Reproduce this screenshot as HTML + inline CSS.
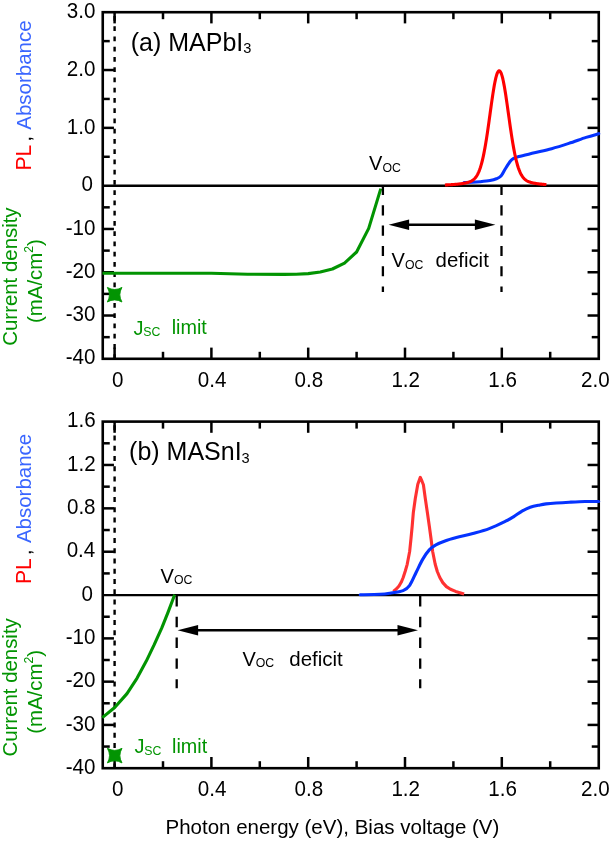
<!DOCTYPE html>
<html><head><meta charset="utf-8"><title>MAPbI3 vs MASnI3</title>
<style>html,body{margin:0;padding:0;background:#fff;width:610px;height:841px;overflow:hidden} svg{display:block}</style>
</head><body>
<svg width="610" height="841" viewBox="0 0 610 841" font-family='"Liberation Sans",Arial,Helvetica,sans-serif'>
<rect width="610" height="841" fill="#fff"/>
<g stroke="#000" stroke-width="2.5" fill="none"><line x1="102.75" y1="156.78" x2="109.75" y2="156.78"/><line x1="598.75" y1="156.78" x2="591.75" y2="156.78"/><line x1="102.75" y1="127.87" x2="113.95" y2="127.87"/><line x1="598.75" y1="127.87" x2="587.55" y2="127.87"/><line x1="102.75" y1="98.95" x2="109.75" y2="98.95"/><line x1="598.75" y1="98.95" x2="591.75" y2="98.95"/><line x1="102.75" y1="70.03" x2="113.95" y2="70.03"/><line x1="598.75" y1="70.03" x2="587.55" y2="70.03"/><line x1="102.75" y1="41.12" x2="109.75" y2="41.12"/><line x1="598.75" y1="41.12" x2="591.75" y2="41.12"/><line x1="102.75" y1="207.34" x2="109.75" y2="207.34"/><line x1="598.75" y1="207.34" x2="591.75" y2="207.34"/><line x1="102.75" y1="228.97" x2="113.95" y2="228.97"/><line x1="598.75" y1="228.97" x2="587.55" y2="228.97"/><line x1="102.75" y1="250.61" x2="109.75" y2="250.61"/><line x1="598.75" y1="250.61" x2="591.75" y2="250.61"/><line x1="102.75" y1="272.25" x2="113.95" y2="272.25"/><line x1="598.75" y1="272.25" x2="587.55" y2="272.25"/><line x1="102.75" y1="293.89" x2="109.75" y2="293.89"/><line x1="598.75" y1="293.89" x2="591.75" y2="293.89"/><line x1="102.75" y1="315.52" x2="113.95" y2="315.52"/><line x1="598.75" y1="315.52" x2="587.55" y2="315.52"/><line x1="102.75" y1="337.16" x2="109.75" y2="337.16"/><line x1="598.75" y1="337.16" x2="591.75" y2="337.16"/><line x1="114.60" y1="12.20" x2="114.60" y2="23.40"/><line x1="114.60" y1="358.80" x2="114.60" y2="347.60"/><line x1="163.00" y1="12.20" x2="163.00" y2="19.20"/><line x1="163.00" y1="358.80" x2="163.00" y2="351.80"/><line x1="211.40" y1="12.20" x2="211.40" y2="23.40"/><line x1="211.40" y1="358.80" x2="211.40" y2="347.60"/><line x1="259.80" y1="12.20" x2="259.80" y2="19.20"/><line x1="259.80" y1="358.80" x2="259.80" y2="351.80"/><line x1="308.20" y1="12.20" x2="308.20" y2="23.40"/><line x1="308.20" y1="358.80" x2="308.20" y2="347.60"/><line x1="356.60" y1="12.20" x2="356.60" y2="19.20"/><line x1="356.60" y1="358.80" x2="356.60" y2="351.80"/><line x1="405.00" y1="12.20" x2="405.00" y2="23.40"/><line x1="405.00" y1="358.80" x2="405.00" y2="347.60"/><line x1="453.40" y1="12.20" x2="453.40" y2="19.20"/><line x1="453.40" y1="358.80" x2="453.40" y2="351.80"/><line x1="501.80" y1="12.20" x2="501.80" y2="23.40"/><line x1="501.80" y1="358.80" x2="501.80" y2="347.60"/><line x1="550.20" y1="12.20" x2="550.20" y2="19.20"/><line x1="550.20" y1="358.80" x2="550.20" y2="351.80"/></g>
<line x1="102.75" y1="185.70" x2="598.75" y2="185.70" stroke="#000" stroke-width="2.4"/>
<line x1="114.60" y1="12.20" x2="114.60" y2="358.80" stroke="#000" stroke-width="2.4" stroke-dasharray="4.8 5.45" stroke-dashoffset="6.5"/>
<rect x="102.75" y="12.20" width="496.00" height="346.60" fill="none" stroke="#000" stroke-width="2.6"/>
<text transform="translate(81.45,191.37) scale(1,1.04)" font-size="20.6" fill="#000">0</text>
<text transform="translate(66.87,133.54) scale(1,1.04)" font-size="20.6" fill="#000">1.0</text>
<text transform="translate(66.87,75.70) scale(1,1.04)" font-size="20.6" fill="#000">2.0</text>
<text transform="translate(66.87,17.87) scale(1,1.04)" font-size="20.6" fill="#000">3.0</text>
<text transform="translate(65.74,234.64) scale(1,1.04)" font-size="20.6" fill="#000">-10</text>
<text transform="translate(65.74,277.92) scale(1,1.04)" font-size="20.6" fill="#000">-20</text>
<text transform="translate(65.74,321.19) scale(1,1.04)" font-size="20.6" fill="#000">-30</text>
<text transform="translate(65.74,364.47) scale(1,1.04)" font-size="20.6" fill="#000">-40</text>
<text transform="translate(112.07,386.60) scale(1,1.04)" font-size="20.6" fill="#000">0</text>
<text transform="translate(197.78,386.60) scale(1,1.04)" font-size="20.6" fill="#000">0.4</text>
<text transform="translate(294.52,386.60) scale(1,1.04)" font-size="20.6" fill="#000">0.8</text>
<text transform="translate(391.42,386.60) scale(1,1.04)" font-size="20.6" fill="#000">1.2</text>
<text transform="translate(488.35,386.60) scale(1,1.04)" font-size="20.6" fill="#000">1.6</text>
<text transform="translate(581.07,386.60) scale(1,1.04)" font-size="20.6" fill="#000">2.0</text>
<text transform="translate(130.75,50.80)" font-size="25" fill="#000">(a) MAPbI<tspan font-size="14.6" dy="2.4">3</tspan></text>
<text transform="translate(30.90,170.60) rotate(-90) scale(1,1.04)" font-size="21" fill="#ff0000">PL</text>
<text transform="translate(30.90,141.80) rotate(-90)" font-size="21" fill="#000">,</text>
<text transform="translate(30.90,129.70) rotate(-90) scale(1,1.02)" font-size="20.5" fill="#3a66ff">Absorbance</text>
<text transform="translate(17.40,345.70) rotate(-90) scale(1,1.02)" font-size="20.4" fill="#029402">Current density</text>
<text transform="translate(42.10,322.96) rotate(-90) scale(1,1.02)" font-size="20.4" fill="#029402">(mA/cm<tspan font-size="12.2" dy="-9.2">2</tspan><tspan dy="9.2">)</tspan></text>
<path d="M102.50,273.20 L114.60,273.20 L163.00,273.20 L211.40,273.30 L247.70,274.20 L284.00,274.40 L296.10,274.20 L308.20,273.60 L320.30,272.00 L332.40,269.00 L344.50,263.10 L356.60,252.00 L368.70,228.40 L380.80,188.60" fill="none" stroke="#029402" stroke-width="3.1" stroke-linejoin="round"/>
<path d="M464.10,182.60 C465.42,182.55 469.35,182.45 472.00,182.30 C474.65,182.15 477.00,182.00 480.00,181.70 C483.00,181.40 487.27,180.98 490.00,180.50 C492.73,180.02 494.57,179.55 496.40,178.80 C498.23,178.05 499.53,177.63 501.00,176.00 C502.47,174.37 503.65,171.45 505.20,169.00 C506.75,166.55 508.87,163.07 510.30,161.30 C511.73,159.53 512.37,159.20 513.80,158.40 C515.23,157.60 515.47,157.43 518.90,156.50 C522.33,155.57 528.95,154.10 534.40,152.80 C539.85,151.50 545.87,150.27 551.60,148.70 C557.33,147.13 563.05,145.28 568.80,143.40 C574.55,141.52 581.12,139.02 586.10,137.40 C591.08,135.78 596.60,134.32 598.70,133.70" fill="none" stroke="#0533ff" stroke-width="3.1" stroke-linecap="round"/>
<path d="M444.90,184.95 L445.40,184.93 L445.90,184.91 L446.40,184.89 L446.90,184.87 L447.40,184.85 L447.90,184.83 L448.40,184.81 L448.90,184.79 L449.40,184.76 L449.90,184.74 L450.40,184.71 L450.90,184.68 L451.40,184.65 L451.90,184.62 L452.40,184.59 L452.90,184.55 L453.40,184.52 L453.90,184.48 L454.40,184.44 L454.90,184.40 L455.40,184.36 L455.90,184.31 L456.40,184.27 L456.90,184.22 L457.40,184.17 L457.90,184.12 L458.40,184.06 L458.90,184.01 L459.40,183.95 L459.90,183.89 L460.40,183.82 L460.90,183.76 L461.40,183.69 L461.90,183.62 L462.40,183.54 L462.90,183.47 L463.40,183.38 L463.90,183.30 L464.40,183.21 L464.90,183.11 L465.40,183.01 L465.90,182.90 L466.40,182.79 L466.90,182.67 L467.40,182.54 L467.90,182.40 L468.40,182.25 L468.90,182.09 L469.40,181.91 L469.90,181.71 L470.40,181.50 L470.90,181.27 L471.40,181.01 L471.90,180.73 L472.40,180.41 L472.90,180.06 L473.40,179.68 L473.90,179.25 L474.40,178.78 L474.90,178.26 L475.40,177.68 L475.90,177.04 L476.40,176.33 L476.90,175.55 L477.40,174.68 L477.90,173.73 L478.40,172.69 L478.90,171.55 L479.40,170.30 L479.90,168.93 L480.40,167.46 L480.90,165.85 L481.40,164.12 L481.90,162.25 L482.40,160.25 L482.90,158.10 L483.40,155.82 L483.90,153.39 L484.40,150.82 L484.90,148.11 L485.40,145.26 L485.90,142.29 L486.40,139.18 L486.90,135.97 L487.40,132.65 L487.90,129.23 L488.40,125.74 L488.90,122.18 L489.40,118.58 L489.90,114.96 L490.40,111.32 L490.90,107.71 L491.40,104.13 L491.90,100.62 L492.40,97.19 L492.90,93.88 L493.40,90.70 L493.90,87.68 L494.40,84.84 L494.90,82.22 L495.40,79.82 L495.90,77.67 L496.40,75.78 L496.90,74.18 L497.40,72.88 L497.90,71.88 L498.40,71.21 L498.90,70.86 L499.40,70.83 L499.90,71.12 L500.40,71.73 L500.90,72.65 L501.40,73.87 L501.90,75.39 L502.40,77.18 L502.90,79.24 L503.40,81.54 L503.90,84.08 L504.40,86.82 L504.90,89.75 L505.40,92.84 L505.90,96.07 L506.40,99.41 L506.90,102.86 L507.40,106.37 L507.90,109.92 L508.40,113.50 L508.90,117.09 L509.40,120.65 L509.90,124.18 L510.40,127.66 L510.90,131.07 L511.40,134.39 L511.90,137.62 L512.40,140.74 L512.90,143.74 L513.40,146.62 L513.90,149.36 L514.40,151.98 L514.90,154.45 L515.40,156.79 L515.90,158.99 L516.40,161.05 L516.90,162.97 L517.40,164.77 L517.90,166.43 L518.40,167.97 L518.90,169.39 L519.40,170.70 L519.90,171.90 L520.40,173.00 L520.90,174.00 L521.40,174.91 L521.90,175.75 L522.40,176.50 L522.90,177.19 L523.40,177.81 L523.90,178.37 L524.40,178.87 L524.90,179.33 L525.40,179.74 L525.90,180.12 L526.40,180.45 L526.90,180.76 L527.40,181.04 L527.90,181.29 L528.40,181.52 L528.90,181.73 L529.40,181.92 L529.90,182.09 L530.40,182.25 L530.90,182.40 L531.40,182.54 L531.90,182.67 L532.40,182.79 L532.90,182.90 L533.40,183.01 L533.90,183.11 L534.40,183.20 L534.90,183.29 L535.40,183.37 L535.90,183.46 L536.40,183.53 L536.90,183.61 L537.40,183.68 L537.90,183.75 L538.40,183.81 L538.90,183.88 L539.40,183.94 L539.90,183.99 L540.40,184.05 L540.90,184.10 L541.40,184.15 L541.90,184.20 L542.40,184.25 L542.90,184.30 L543.40,184.34 L543.90,184.39 L544.40,184.43 L544.90,184.46 L545.40,184.50 L545.90,184.54 L546.40,184.57" fill="none" stroke="#ff0000" stroke-width="3.1" stroke-linejoin="round"/>
<line x1="382.9" y1="185.0" x2="382.9" y2="292.0" stroke="#000" stroke-width="2.3" stroke-dasharray="10.1 10.2"/>
<line x1="501.5" y1="185.0" x2="501.5" y2="292.0" stroke="#000" stroke-width="2.3" stroke-dasharray="10.1 10.2"/>
<line x1="408.10" y1="224.70" x2="475.90" y2="224.70" stroke="#000" stroke-width="2.5"/><path d="M388.60,224.70 L409.10,219.50 L409.10,229.90 Z" fill="#000"/><path d="M495.40,224.70 L474.90,219.50 L474.90,229.90 Z" fill="#000"/>
<text transform="translate(391.60,267.20) scale(1,1.04)" font-size="20" fill="#000">V<tspan font-size="12.3" dy="1.3">OC</tspan></text>
<text transform="translate(435.55,267.00)" font-size="20.4" fill="#000">deficit</text>
<text transform="translate(369.10,170.30) scale(1,1.04)" font-size="20" fill="#000">V<tspan font-size="12.3" dy="1.9">OC</tspan></text>
<path d="M107.35,287.40 Q114.65,291.63 121.95,287.40 Q117.72,294.70 121.95,302.00 Q114.65,297.77 107.35,302.00 Q111.58,294.70 107.35,287.40 Z" fill="#029402" stroke="#029402" stroke-width="0.9" stroke-linejoin="round"/>
<text transform="translate(133.60,334.50) scale(1,1.04)" font-size="20" fill="#029402">J<tspan font-size="12.3" dy="1.9" dx="-0.35">SC</tspan></text>
<text transform="translate(171.65,334.40)" font-size="19.8" fill="#029402">limit</text>
<g stroke="#000" stroke-width="2.5" fill="none"><line x1="102.75" y1="573.41" x2="109.75" y2="573.41"/><line x1="598.75" y1="573.41" x2="591.75" y2="573.41"/><line x1="102.75" y1="551.72" x2="113.95" y2="551.72"/><line x1="598.75" y1="551.72" x2="587.55" y2="551.72"/><line x1="102.75" y1="530.04" x2="109.75" y2="530.04"/><line x1="598.75" y1="530.04" x2="591.75" y2="530.04"/><line x1="102.75" y1="508.35" x2="113.95" y2="508.35"/><line x1="598.75" y1="508.35" x2="587.55" y2="508.35"/><line x1="102.75" y1="486.66" x2="109.75" y2="486.66"/><line x1="598.75" y1="486.66" x2="591.75" y2="486.66"/><line x1="102.75" y1="464.97" x2="113.95" y2="464.97"/><line x1="598.75" y1="464.97" x2="587.55" y2="464.97"/><line x1="102.75" y1="443.29" x2="109.75" y2="443.29"/><line x1="598.75" y1="443.29" x2="591.75" y2="443.29"/><line x1="102.75" y1="616.74" x2="109.75" y2="616.74"/><line x1="598.75" y1="616.74" x2="591.75" y2="616.74"/><line x1="102.75" y1="638.38" x2="113.95" y2="638.38"/><line x1="598.75" y1="638.38" x2="587.55" y2="638.38"/><line x1="102.75" y1="660.01" x2="109.75" y2="660.01"/><line x1="598.75" y1="660.01" x2="591.75" y2="660.01"/><line x1="102.75" y1="681.65" x2="113.95" y2="681.65"/><line x1="598.75" y1="681.65" x2="587.55" y2="681.65"/><line x1="102.75" y1="703.29" x2="109.75" y2="703.29"/><line x1="598.75" y1="703.29" x2="591.75" y2="703.29"/><line x1="102.75" y1="724.92" x2="113.95" y2="724.92"/><line x1="598.75" y1="724.92" x2="587.55" y2="724.92"/><line x1="102.75" y1="746.56" x2="109.75" y2="746.56"/><line x1="598.75" y1="746.56" x2="591.75" y2="746.56"/><line x1="114.60" y1="421.60" x2="114.60" y2="432.80"/><line x1="114.60" y1="768.20" x2="114.60" y2="757.00"/><line x1="163.00" y1="421.60" x2="163.00" y2="428.60"/><line x1="163.00" y1="768.20" x2="163.00" y2="761.20"/><line x1="211.40" y1="421.60" x2="211.40" y2="432.80"/><line x1="211.40" y1="768.20" x2="211.40" y2="757.00"/><line x1="259.80" y1="421.60" x2="259.80" y2="428.60"/><line x1="259.80" y1="768.20" x2="259.80" y2="761.20"/><line x1="308.20" y1="421.60" x2="308.20" y2="432.80"/><line x1="308.20" y1="768.20" x2="308.20" y2="757.00"/><line x1="356.60" y1="421.60" x2="356.60" y2="428.60"/><line x1="356.60" y1="768.20" x2="356.60" y2="761.20"/><line x1="405.00" y1="421.60" x2="405.00" y2="432.80"/><line x1="405.00" y1="768.20" x2="405.00" y2="757.00"/><line x1="453.40" y1="421.60" x2="453.40" y2="428.60"/><line x1="453.40" y1="768.20" x2="453.40" y2="761.20"/><line x1="501.80" y1="421.60" x2="501.80" y2="432.80"/><line x1="501.80" y1="768.20" x2="501.80" y2="757.00"/><line x1="550.20" y1="421.60" x2="550.20" y2="428.60"/><line x1="550.20" y1="768.20" x2="550.20" y2="761.20"/></g>
<line x1="102.75" y1="595.10" x2="598.75" y2="595.10" stroke="#000" stroke-width="2.4"/>
<line x1="114.60" y1="421.60" x2="114.60" y2="768.20" stroke="#000" stroke-width="2.4" stroke-dasharray="4.8 5.45" stroke-dashoffset="6.5"/>
<rect x="102.75" y="421.60" width="496.00" height="346.60" fill="none" stroke="#000" stroke-width="2.6"/>
<text transform="translate(81.45,600.77) scale(1,1.04)" font-size="20.6" fill="#000">0</text>
<text transform="translate(66.66,557.39) scale(1,1.04)" font-size="20.6" fill="#000">0.4</text>
<text transform="translate(66.95,514.02) scale(1,1.04)" font-size="20.6" fill="#000">0.8</text>
<text transform="translate(67.10,470.64) scale(1,1.04)" font-size="20.6" fill="#000">1.2</text>
<text transform="translate(66.97,427.27) scale(1,1.04)" font-size="20.6" fill="#000">1.6</text>
<text transform="translate(65.74,644.04) scale(1,1.04)" font-size="20.6" fill="#000">-10</text>
<text transform="translate(65.74,687.32) scale(1,1.04)" font-size="20.6" fill="#000">-20</text>
<text transform="translate(65.74,730.59) scale(1,1.04)" font-size="20.6" fill="#000">-30</text>
<text transform="translate(65.74,773.87) scale(1,1.04)" font-size="20.6" fill="#000">-40</text>
<text transform="translate(112.07,796.00) scale(1,1.04)" font-size="20.6" fill="#000">0</text>
<text transform="translate(197.78,796.00) scale(1,1.04)" font-size="20.6" fill="#000">0.4</text>
<text transform="translate(294.52,796.00) scale(1,1.04)" font-size="20.6" fill="#000">0.8</text>
<text transform="translate(391.42,796.00) scale(1,1.04)" font-size="20.6" fill="#000">1.2</text>
<text transform="translate(488.35,796.00) scale(1,1.04)" font-size="20.6" fill="#000">1.6</text>
<text transform="translate(581.07,796.00) scale(1,1.04)" font-size="20.6" fill="#000">2.0</text>
<text transform="translate(129.05,460.10)" font-size="25" fill="#000">(b) MASnI<tspan font-size="14.6" dy="2.4">3</tspan></text>
<text transform="translate(30.90,584.00) rotate(-90) scale(1,1.04)" font-size="21" fill="#ff0000">PL</text>
<text transform="translate(30.90,555.20) rotate(-90)" font-size="21" fill="#000">,</text>
<text transform="translate(30.90,543.10) rotate(-90) scale(1,1.02)" font-size="20.5" fill="#3a66ff">Absorbance</text>
<text transform="translate(17.40,756.50) rotate(-90) scale(1,1.02)" font-size="20.4" fill="#029402">Current density</text>
<text transform="translate(42.10,733.76) rotate(-90) scale(1,1.02)" font-size="20.4" fill="#029402">(mA/cm<tspan font-size="12.2" dy="-9.2">2</tspan><tspan dy="9.2">)</tspan></text>
<path d="M102.30,717.60 L114.70,707.50 L127.00,693.60 L137.10,678.10 L146.30,661.10 L154.10,644.90 L161.80,627.90 L168.00,612.40 L174.10,596.20 L174.80,594.80" fill="none" stroke="#029402" stroke-width="3.1" stroke-linejoin="round"/>
<path d="M393.30,591.40 L396.30,589.00 L399.00,586.00 L401.20,582.30 L403.20,577.50 L405.30,571.00 L407.20,564.30 L409.70,551.20 L411.00,538.50 L412.20,526.00 L413.30,512.80 L415.30,498.50 L417.80,484.30 L420.30,477.40 L422.00,481.20 L423.40,484.80 L425.30,498.50 L427.40,512.80 L429.30,526.00 L431.00,538.50 L432.60,551.20 L435.20,564.30 L437.30,571.50 L439.80,577.50 L442.80,582.60 L446.40,586.60 L450.50,589.30 L455.60,591.40 L464.10,593.90" fill="none" stroke="#ff3232" stroke-width="3.1" stroke-linejoin="round"/>
<path d="M360.20,594.80 C363.50,594.72 375.03,594.57 380.00,594.30 C384.97,594.03 386.15,593.82 390.00,593.20 C393.85,592.58 399.82,591.92 403.10,590.60 C406.38,589.28 407.52,588.37 409.70,585.30 C411.88,582.23 414.02,576.57 416.20,572.20 C418.38,567.83 420.62,562.82 422.80,559.10 C424.98,555.38 427.12,552.27 429.30,549.90 C431.48,547.53 433.28,546.38 435.90,544.90 C438.52,543.42 441.58,542.22 445.00,541.00 C448.42,539.78 451.77,538.85 456.40,537.60 C461.03,536.35 467.33,535.00 472.80,533.50 C478.27,532.00 483.73,530.65 489.20,528.60 C494.67,526.55 501.50,523.20 505.60,521.20 C509.70,519.20 511.07,518.28 513.80,516.60 C516.53,514.92 519.27,512.67 522.00,511.10 C524.73,509.53 527.20,508.23 530.20,507.20 C533.20,506.17 537.35,505.45 540.00,504.90 C542.65,504.35 543.40,504.22 546.10,503.90 C548.80,503.58 552.33,503.28 556.20,503.00 C560.07,502.72 564.50,502.45 569.30,502.20 C574.10,501.95 580.10,501.62 585.00,501.50 C589.90,501.38 596.42,501.50 598.70,501.50" fill="none" stroke="#0533ff" stroke-width="3.1" stroke-linecap="round"/>
<line x1="176.7" y1="596.0" x2="176.7" y2="688.2" stroke="#000" stroke-width="2.3" stroke-dasharray="10.4 10.4"/>
<line x1="420.2" y1="596.0" x2="420.2" y2="688.2" stroke="#000" stroke-width="2.3" stroke-dasharray="10.4 10.4"/>
<line x1="197.10" y1="630.30" x2="398.50" y2="630.30" stroke="#000" stroke-width="2.5"/><path d="M177.60,630.30 L198.10,625.10 L198.10,635.50 Z" fill="#000"/><path d="M418.00,630.30 L397.50,625.10 L397.50,635.50 Z" fill="#000"/>
<text transform="translate(242.40,665.60) scale(1,1.04)" font-size="20" fill="#000">V<tspan font-size="12.3" dy="1.4">OC</tspan></text>
<text transform="translate(289.25,665.60)" font-size="20.5" fill="#000">deficit</text>
<text transform="translate(160.60,582.80) scale(1,1.04)" font-size="20" fill="#000">V<tspan font-size="12.3" dy="1.5">OC</tspan></text>
<path d="M107.40,748.30 Q114.70,752.53 122.00,748.30 Q117.77,755.60 122.00,762.90 Q114.70,758.67 107.40,762.90 Q111.63,755.60 107.40,748.30 Z" fill="#029402" stroke="#029402" stroke-width="0.9" stroke-linejoin="round"/>
<text transform="translate(134.60,753.00) scale(1,1.04)" font-size="20" fill="#029402">J<tspan font-size="12.3" dy="1.5" dx="-0.35">SC</tspan></text>
<text transform="translate(172.05,753.00)" font-size="19.8" fill="#029402">limit</text>
<text transform="translate(165.50,834.00)" font-size="20.5" fill="#000">Photon energy (eV), Bias voltage (V)</text>
</svg>
</body></html>
